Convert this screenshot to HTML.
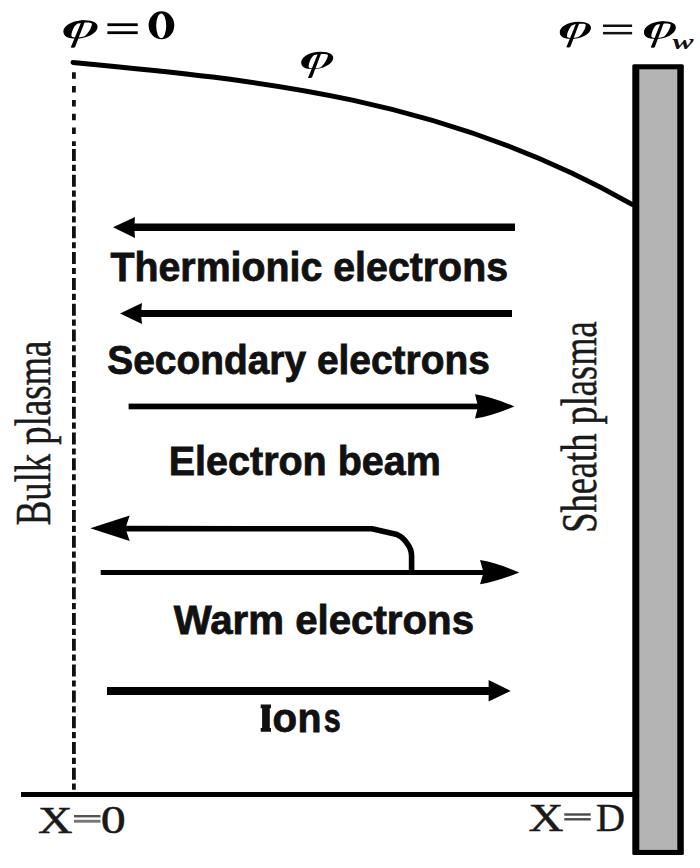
<!DOCTYPE html>
<html><head><meta charset="utf-8">
<style>
html,body{margin:0;padding:0;background:#fff;width:700px;height:868px;overflow:hidden}
svg{display:block}
.sans{font-family:"Liberation Sans",sans-serif;font-weight:bold;fill:#111;stroke:#111;stroke-width:0.8px}
.serif{font-family:"Liberation Serif",serif;fill:#1a1a1a;stroke:#1a1a1a;stroke-width:0.5px}
.sym{font-family:"Liberation Serif",serif;font-weight:bold;fill:#111}
</style></head>
<body>
<svg width="700" height="868" viewBox="0 0 700 868">
<rect x="0" y="0" width="700" height="868" fill="#fff"/>

<!-- potential curve -->
<path d="M73 62.4 C259.3 80.1 445.6 98 632 204.4" fill="none" stroke="#000" stroke-width="5" stroke-linecap="round"/>

<!-- dotted boundary line -->
<line x1="73.9" y1="72.3" x2="73.9" y2="146" stroke="#111" stroke-width="3.8" stroke-dasharray="6.5 7.3" />
<line x1="73.9" y1="149" x2="73.9" y2="791" stroke="#111" stroke-width="3.8" stroke-dasharray="12 3.8 6.2 3.78" />

<!-- baseline -->
<rect x="21" y="792" width="615" height="5" fill="#000"/>

<!-- wall -->
<rect x="632.3" y="64.2" width="51.5" height="790.8" rx="1.5" fill="#000"/>
<rect x="639.3" y="69.3" width="38" height="780.6" fill="#b4b4b4"/>

<!-- arrows -->
<g fill="#000">
  <!-- 1 thermionic -->
  <rect x="130" y="223.5" width="385" height="7.5"/>
  <path d="M113 227.2 L135 217 L134.2 227.2 L135 238 Z"/>
  <!-- 2 secondary -->
  <rect x="138" y="310" width="374" height="7"/>
  <path d="M120 313.6 L142 303 L141 313.6 L142 324 Z"/>
  <!-- 3 beam -->
  <rect x="128.6" y="403.6" width="352" height="5.7"/>
  <path d="M514.3 406.4 Q492 397 475 394.3 L478 406.4 L475 418.6 Q492 415.8 514.3 406.4 Z"/>
  <!-- 5 warm lower -->
  <rect x="100.7" y="570" width="385" height="5"/>
  <path d="M519.3 572.5 Q497 562.8 480 560 L483.6 572.5 L480 584.3 Q497 581.5 519.3 572.5 Z"/>
  <!-- 4 warm upper -->
  <path d="M90.3 528.3 L129.7 515.4 L125.4 528.3 L129.7 541 Z"/>
  <!-- 6 ions -->
  <rect x="107" y="687" width="385" height="8"/>
  <path d="M510.7 690.9 L488.6 680 L488.6 701.4 Z"/>
</g>
<path d="M124 528.6 L372 528.8 L397 534.6 Q403 537 407.5 544 Q411.5 549 411.6 556 L411.6 572" fill="none" stroke="#000" stroke-width="5.6" stroke-linejoin="round"/>

<!-- labels -->
<text class="sans" x="110.5" y="281.4" font-size="40.2" textLength="397.5" lengthAdjust="spacingAndGlyphs">Thermionic electrons</text>
<text class="sans" x="107.3" y="373.8" font-size="40.2" textLength="382.5" lengthAdjust="spacingAndGlyphs">Secondary electrons</text>
<text class="sans" x="168.8" y="474.6" font-size="40.2" textLength="272" lengthAdjust="spacingAndGlyphs">Electron beam</text>
<text class="sans" x="173.8" y="633.8" font-size="40.2" textLength="300.2" lengthAdjust="spacingAndGlyphs">Warm electrons</text>
<path d="M260.7 704.6 H271 V708.2 H269.8 V728.1 H271 V731.7 H260.7 V728.1 H262.1 V708.2 H260.7 Z" fill="#111"/>
<text class="sans" x="272.5" y="731.8" font-size="40.2" textLength="24.6" lengthAdjust="spacingAndGlyphs">o</text>
<text class="sans" x="297.6" y="731.8" font-size="40.2" textLength="24" lengthAdjust="spacingAndGlyphs">n</text>
<text class="sans" x="323.8" y="731.8" font-size="40.2" textLength="17" lengthAdjust="spacingAndGlyphs">s</text>

<text class="serif" transform="translate(49.6 525.2) rotate(-90)" font-size="50" textLength="184.5" lengthAdjust="spacingAndGlyphs">Bulk plasma</text>
<text class="serif" transform="translate(596.4 532.8) rotate(-90)" font-size="50" textLength="211.5" lengthAdjust="spacingAndGlyphs">Sheath plasma</text>

<text class="serif" x="37.9" y="832.7" font-size="38.5" textLength="34.5" lengthAdjust="spacingAndGlyphs">X</text>
<rect x="74" y="815" width="26.5" height="2.4" fill="#555"/>
<rect x="74" y="819.8" width="26.5" height="2.9" fill="#777"/>
<text class="serif" x="100.8" y="832.9" font-size="39" textLength="25" lengthAdjust="spacingAndGlyphs">0</text>
<text class="serif" x="528.6" y="831.4" font-size="39.5" textLength="35" lengthAdjust="spacingAndGlyphs">X</text>
<rect x="564.3" y="813.3" width="26.4" height="2.4" fill="#4a4a4a"/>
<rect x="564.3" y="818.1" width="26.4" height="2.4" fill="#4a4a4a"/>
<text class="serif" x="596" y="831.4" font-size="39.5" textLength="29" lengthAdjust="spacingAndGlyphs">D</text>

<!-- phi labels -->
<defs>
  <g id="phi">
    <path fill-rule="evenodd" fill="#000" d="M0.2 12.2 C-0.6 5.5 9 0.2 20.5 0 C30 -0.2 35.2 3 34.2 7.5 C33.2 13.5 23 18.4 12.5 18.4 C5 18.4 0.8 16.5 0.2 12.2 Z M14.5 3.4 C20 2.2 26.5 1.8 28.3 3 C29.9 4.5 24.5 14.8 20.5 16.4 C16 17.8 9.8 17.8 8.4 16.4 C7.2 14.5 10.5 4.8 14.5 3.4 Z"/>
    <path fill="#000" d="M18.6 0.3 L22 0.3 L11.8 26.8 Q11.3 27.5 9.8 27.5 L7.4 27.4 Z"/>
  </g>
</defs>
<use href="#phi" transform="translate(63.3 20.2)"/>
<rect x="107.4" y="23.3" width="30.3" height="2.8" fill="#000"/>
<rect x="107.4" y="31.3" width="30.3" height="2.8" fill="#000"/>
<path fill-rule="evenodd" fill="#000" d="M148.6 25.3 A12.85 14 0 1 0 174.3 25.3 A12.85 14 0 1 0 148.6 25.3 Z M156.2 25.8 A5 12.3 0 1 0 166.2 25.8 A5 12.3 0 1 0 156.2 25.8 Z"/>

<use href="#phi" transform="translate(301 51.7) scale(0.94 0.956)"/>

<use href="#phi" transform="translate(559.6 21.7) scale(0.915 0.935)"/>
<rect x="603" y="24.5" width="29.1" height="2.5" fill="#111"/>
<rect x="603" y="31.9" width="29.1" height="2.5" fill="#111"/>
<use href="#phi" transform="translate(643.8 21.3) scale(0.936 0.96)"/>
<text class="sym" x="672.6" y="49" font-size="22" font-style="italic" textLength="21" lengthAdjust="spacingAndGlyphs">w</text>
</svg>
</body></html>
